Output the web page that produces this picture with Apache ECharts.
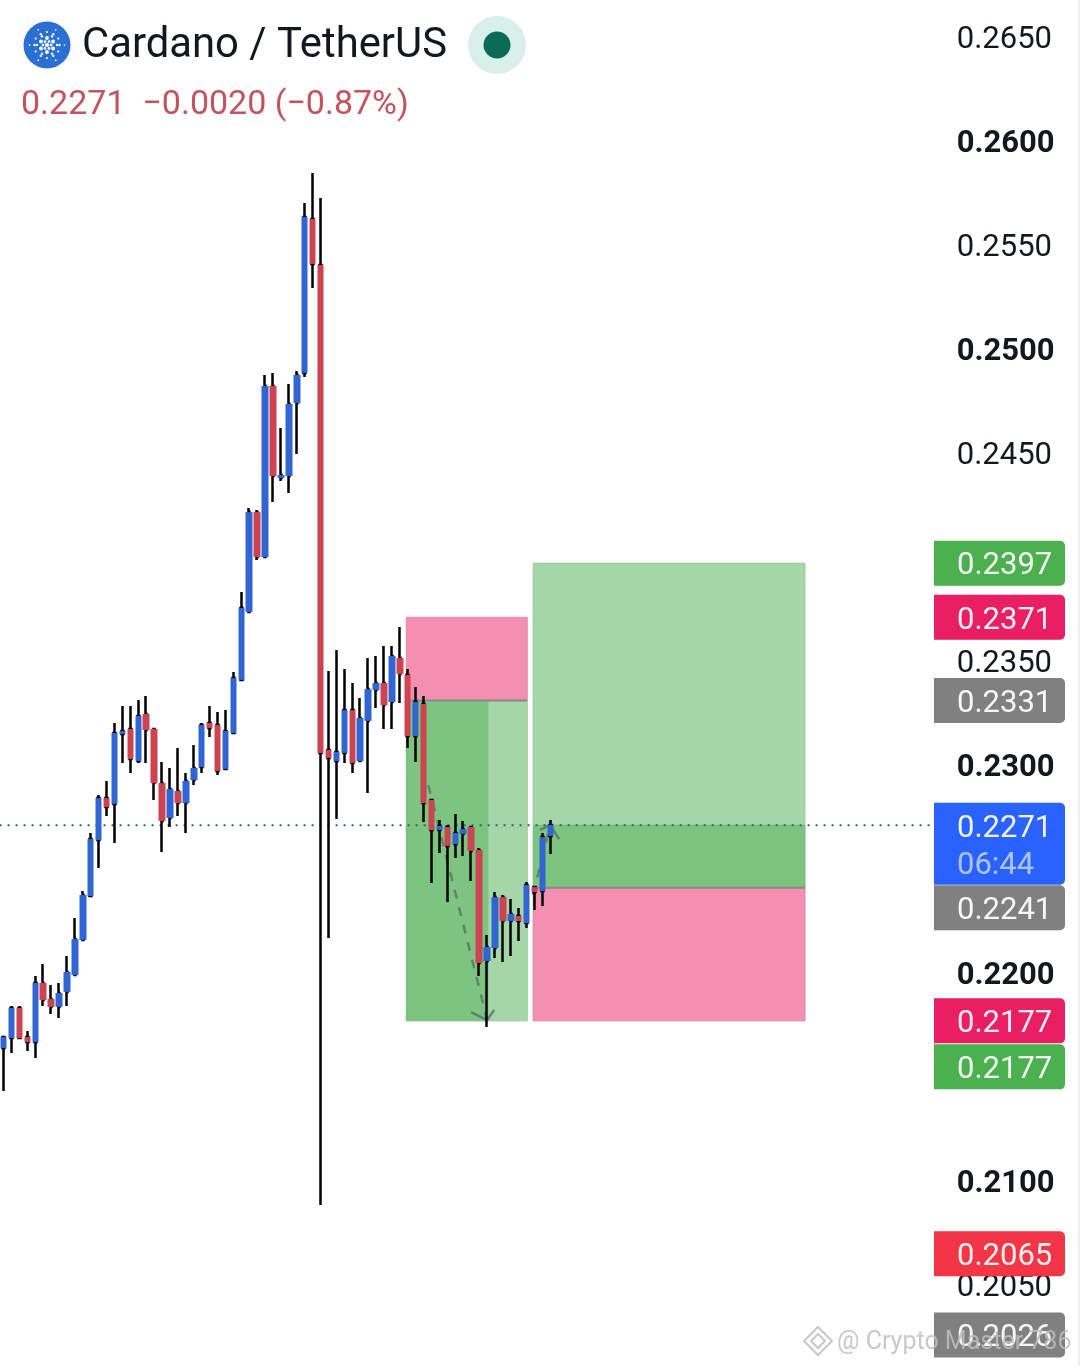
<!DOCTYPE html>
<html>
<head>
<meta charset="utf-8">
<style>html,body{margin:0;padding:0;background:#fff}#c{width:1080px;height:1366px}</style>
<script src="https://cdn.jsdelivr.net/npm/echarts@6/dist/echarts.min.js"></script>
</head>
<body>
<div id="c"></div>
<script>
const opens  = [.21639,.21687,.21832,.21692,.21668,.21952,.21875,.21837,.21909,.21990,.22159,.22370,.22639,.22841,.22813,.23149,.23173,.23019,.23245,.23173,.22913,.22745,.22875,.22817,.22928,.22990,.23202,.23192,.22981,.23154,.23409,.23736,.24216,.24000,.24822,.24380,.24389,.24740,.24885,.25625,.25404,.23072,.23019,.23058,.23264,.23019,.23212,.23361,.23394,.23303,.23514,.23433,.23139,.23293,.22832,.22687,.22702,.22620,.22668,.22702,.22591,.22058,.22120,.22365,.22250,.22274,.22240,.22413,.22394,.22659];
const closes = [.21692,.21832,.21687,.21668,.21952,.21870,.21837,.21904,.22005,.22163,.22375,.22644,.22841,.22798,.23154,.23163,.23029,.23236,.23168,.22913,.22731,.22885,.22817,.22923,.22986,.23192,.23178,.22971,.23163,.23418,.23755,.24216,.24000,.24822,.24389,.24394,.24736,.24875,.25635,.25409,.23058,.23034,.23063,.23264,.23010,.23226,.23365,.23394,.23288,.23524,.23438,.23139,.23303,.22817,.22687,.22707,.22611,.22673,.22692,.22587,.22048,.22125,.22365,.22250,.22284,.22250,.22423,.22389,.22654,.22712];
const lows   = [.21433,.21615,.21687,.21625,.21591,.21841,.21803,.21784,.21841,.21986,.22154,.22370,.22505,.22755,.22625,.23010,.22962,.23010,.23010,.22832,.22582,.22702,.22755,.22673,.22904,.22962,.23135,.22952,.22981,.23149,.23409,.23731,.23986,.24000,.24264,.24365,.24308,.24495,.24865,.25293,.20885,.22168,.22740,.23010,.22962,.23019,.22865,.23274,.23173,.23173,.23298,.23082,.23014,.22726,.22433,.22577,.22341,.22553,.22563,.22442,.21986,.21740,.22072,.22053,.22082,.22154,.22216,.22303,.22322,.22572];
const highs  = [.21692,.21841,.21841,.21721,.21986,.22043,.21942,.21952,.22082,.22264,.22394,.22673,.22856,.22923,.23202,.23284,.23284,.23313,.23332,.23178,.23014,.22986,.23082,.22962,.23096,.23202,.23284,.23255,.23264,.23447,.23832,.24236,.24226,.24875,.24885,.24620,.24832,.24894,.25702,.25846,.25726,.23452,.23553,.23462,.23394,.23322,.23514,.23524,.23572,.23572,.23663,.23462,.23375,.23332,.22832,.22736,.22712,.22764,.22731,.22702,.22601,.22183,.22389,.22375,.22356,.22312,.22437,.22413,.22673,.22736];
const barSlots = 118;
const lastPrice = 0.2271;

// position boxes: [start bar, end bar, upper price, lower price]
const boxes = [
  [50.82, 66.08, .2371, .2331],
  [50.82, 61.16, .2331, .2177],
  [61.16, 66.08, .2331, .2177],
  [66.83, 101.13, .2397, .2271],
  [66.83, 101.13, .2271, .2241],
  [66.83, 101.13, .2241, .2177]
];
const boxFill   = ['#f48fb1','#7cc47f','#a5d6a7','#a5d6a7','#7cc47f','#f48fb1'];
const boxStroke = ['#e58aa8','#75b878','#98c99a','#98c99a','#75b878','#d884a2'];
const entryLines = [
  [[50.82,.2331],[66.08,.2331]],
  [[66.83,.2241],[101.13,.2241]]
];
const arrowShafts = [
  [[53.6,.22904],[61.03,.21774]],
  [[66.8,.22375],[68.98,.22712]]
];
const arrowHeads = [
  [[59.0,.21812],[61.03,.21774],[61.9,.21822]],
  [[67.7,.22688],[68.98,.22712],[70.1,.22644]]
];

// price tags on the scale
const tagValues = [.2397,.2371,.2331,.2271,.2241,.2177,.2177,.2065,.2026];
const tagLabels = ['0.2397','0.2371','0.2331','0.2271','0.2241','0.2177','0.2177','0.2065','0.2026'];
const tagColors = ['#4caf50','#e91e63','#808080','#2962ff','#808080','#e91e63','#4caf50','#f23645','#808080'];
const tagNudges = [0,0,0,0,20,0,46,0,0];
const countdownText = '06:44';

const titleText = 'Cardano / TetherUS';
const quoteText = '0.2271  \u22120.0020 (\u22120.87%)';
const watermarkText = '@ Crypto Master 786';

const UP = '#3165d4', DOWN = '#cd4352', WICK = '#000';
const bars = opens.map((_, i) => i);
const categories = Array.from({length: barSlots}, (_, i) => String(i));
const wickData = bars.map(i => [opens[i], closes[i], lows[i], highs[i]]);
const bodyData = bars.map(i => [opens[i], closes[i], Math.min(opens[i], closes[i]), Math.max(opens[i], closes[i])]);

function polyline(data, style, z) {
  return {type:'line', xAxisIndex:1, yAxisIndex:0, data, symbol:'none', silent:true, z,
          lineStyle:style, itemStyle:{color:style.color}, clip:false};
}

// Cardano logo dots
const logoDots = [];
const LX = 47, LY = 45;
[[0,7,3.6,2.1],[7,6,3.2,1.9],[12.5,6,1.8,1.5],[13,6,1.5,1.2],[17.5,6,1.1,1.1]].forEach(([r,n,s,off],k) => {
  for (let i = 0; i < n; i++) {
    const a = (i / n) * Math.PI * 2 + (k === 3 ? Math.PI/6 : k === 4 ? 0 : Math.PI/6 * (k % 2 === 0 ? 0 : 1));
    if (r === 0 && i > 0) break;
    logoDots.push({type:'circle', silent:true, shape:{cx:LX + r*Math.cos(a), cy:LY + r*Math.sin(a), r:s/2 + .3}, style:{fill:'#fff'}, z:10});
  }
});
[[4,6,1.4],[10,6,1.2]].forEach(([r,n,s]) => {
  for (let i = 0; i < n; i++) {
    const a = (i / n) * Math.PI * 2;
    logoDots.push({type:'circle', silent:true, shape:{cx:LX + r*Math.cos(a), cy:LY + r*Math.sin(a), r:s}, style:{fill:'#fff'}, z:10});
  }
});

const chart = echarts.init(document.getElementById('c'), null, {renderer:'canvas'});
chart.setOption({
  animation:false,
  backgroundColor:'#ffffff',
  tooltip:{show:false},
  grid:{left:-0.4, top:-67, width:935.14, height:1456, outerBoundsMode:'none', containLabel:false},
  xAxis:[
    {type:'category', data:categories, show:false, boundaryGap:true},
    {type:'value', min:-0.5, max:barSlots-0.5, show:false}
  ],
  yAxis:[{
    type:'value', position:'right', min:0.20, max:0.27, interval:0.005, scale:true,
    axisLine:{show:false}, axisTick:{show:false}, splitLine:{show:false},
    axisLabel:{
      show:true, margin:22, align:'left', color:'#131722', fontFamily:'Roboto', fontSize:31,
      padding:[6,0,0,0],
      formatter:v => {
        const s = v.toFixed(4);
        return Math.round(v*10000) % 100 === 0 ? '{b|' + s + '}' : s;
      },
      rich:{b:{fontFamily:'Roboto', fontWeight:'bold', fontSize:31, color:'#131722'}}
    }
  }],
  series:[
    {
      type:'custom', xAxisIndex:1, yAxisIndex:0, z:1, silent:true, data:boxes,
      encode:{x:[0,1], y:[2,3]},
      renderItem:(p, api) => {
        const a = api.coord([api.value(0), api.value(2)]);
        const b = api.coord([api.value(1), api.value(3)]);
        return {type:'rect', shape:{x:a[0], y:a[1], width:b[0]-a[0], height:b[1]-a[1]},
                style:{fill:boxFill[p.dataIndex], stroke:boxStroke[p.dataIndex], lineWidth:1}};
      }
    },
    polyline(entryLines[0], {color:'#8a8a8a', width:2}, 2),
    polyline(entryLines[1], {color:'#8a8a8a', width:2}, 2),
    polyline(arrowShafts[0], {color:'rgba(90,110,100,.75)', width:2.5, type:[9,9]}, 3),
    polyline(arrowShafts[1], {color:'rgba(90,110,100,.75)', width:2.5, type:[9,9]}, 3),
    polyline(arrowHeads[0], {color:'rgba(90,110,100,.75)', width:2.5}, 3),
    polyline(arrowHeads[1], {color:'rgba(90,110,100,.75)', width:2.5}, 3),
    polyline([[-0.5,lastPrice],[barSlots-0.7,lastPrice]], {color:'#1b6f7d', width:2, type:[2,6]}, 4),
    {
      type:'candlestick', xAxisIndex:0, yAxisIndex:0, z:5, silent:true, barWidth:2, data:wickData,
      itemStyle:{color:WICK, color0:WICK, borderColor:WICK, borderColor0:WICK, borderWidth:2.5}
    },
    {
      type:'candlestick', xAxisIndex:0, yAxisIndex:0, z:6, silent:true, barWidth:7, data:bodyData,
      itemStyle:{color:UP, color0:DOWN, borderColor:UP, borderColor0:DOWN, borderWidth:0}
    },
    {
      type:'custom', xAxisIndex:1, yAxisIndex:0, z:20, silent:true, clip:false,
      data:tagValues.map((v,i) => [barSlots-1, v, i]),
      encode:{x:0, y:1},
      renderItem:(p, api) => {
        const i = p.dataIndex;
        const c = api.coord([api.value(0), api.value(1)]);
        const x = 934;
        const y = c[1] + tagNudges[i];
        const isLast = tagLabels[i] === '0.2271';
        const kids = [
          {type:'rect', shape:{x, y:y-22.5, width:131, height:isLast ? 82 : 45, r:[0,5,5,0]}, style:{fill:tagColors[i]}},
          {type:'text', x:957, y:y+3.5, style:{text:tagLabels[i], fill:'#ffffff', font:'31px Roboto', verticalAlign:'middle', align:'left', opacity:.93}}
        ];
        if (isLast) kids.push({type:'text', x:957, y:y+41, style:{text:countdownText, fill:'rgba(255,255,255,.62)', font:'31px Roboto', verticalAlign:'middle', align:'left'}});
        return {type:'group', children:kids};
      }
    }
  ],
  graphic:[
    {type:'rect', silent:true, shape:{x:1078,y:0,width:2,height:1366}, style:{fill:'#f0f0f0'}, z:30},
    {type:'circle', silent:true, shape:{cx:47,cy:45,r:23.5}, style:{fill:'#2a6fd3'}, z:9},
    ...logoDots,
    {type:'text', silent:true, x:82, y:47, z:10, style:{text:titleText, fill:'#131722', font:'41.8px Roboto', verticalAlign:'middle', align:'left'}},
    {type:'circle', silent:true, shape:{cx:497,cy:45,r:29}, style:{fill:'#d9efeb'}, z:9},
    {type:'circle', silent:true, shape:{cx:497,cy:45,r:13.5}, style:{fill:'#0b6b58'}, z:10},
    {type:'text', silent:true, x:21, y:105, z:10, style:{text:quoteText, fill:'#c4525f', font:'34px Roboto', verticalAlign:'middle', align:'left'}},
    {type:'text', silent:true, x:837, y:1343, z:40, style:{text:watermarkText, fill:'rgba(190,190,190,.85)', font:'25px Roboto', verticalAlign:'middle', align:'left'}},
    {type:'polygon', silent:true, z:40, shape:{points:[[818,1327],[832,1341],[818,1355],[804,1341]]}, style:{fill:'none', stroke:'rgba(190,190,190,.85)', lineWidth:2}},
    {type:'polygon', silent:true, z:40, shape:{points:[[818,1334],[825,1341],[818,1348],[811,1341]]}, style:{fill:'none', stroke:'rgba(190,190,190,.85)', lineWidth:2}}
  ]
});
</script>
</body>
</html>
